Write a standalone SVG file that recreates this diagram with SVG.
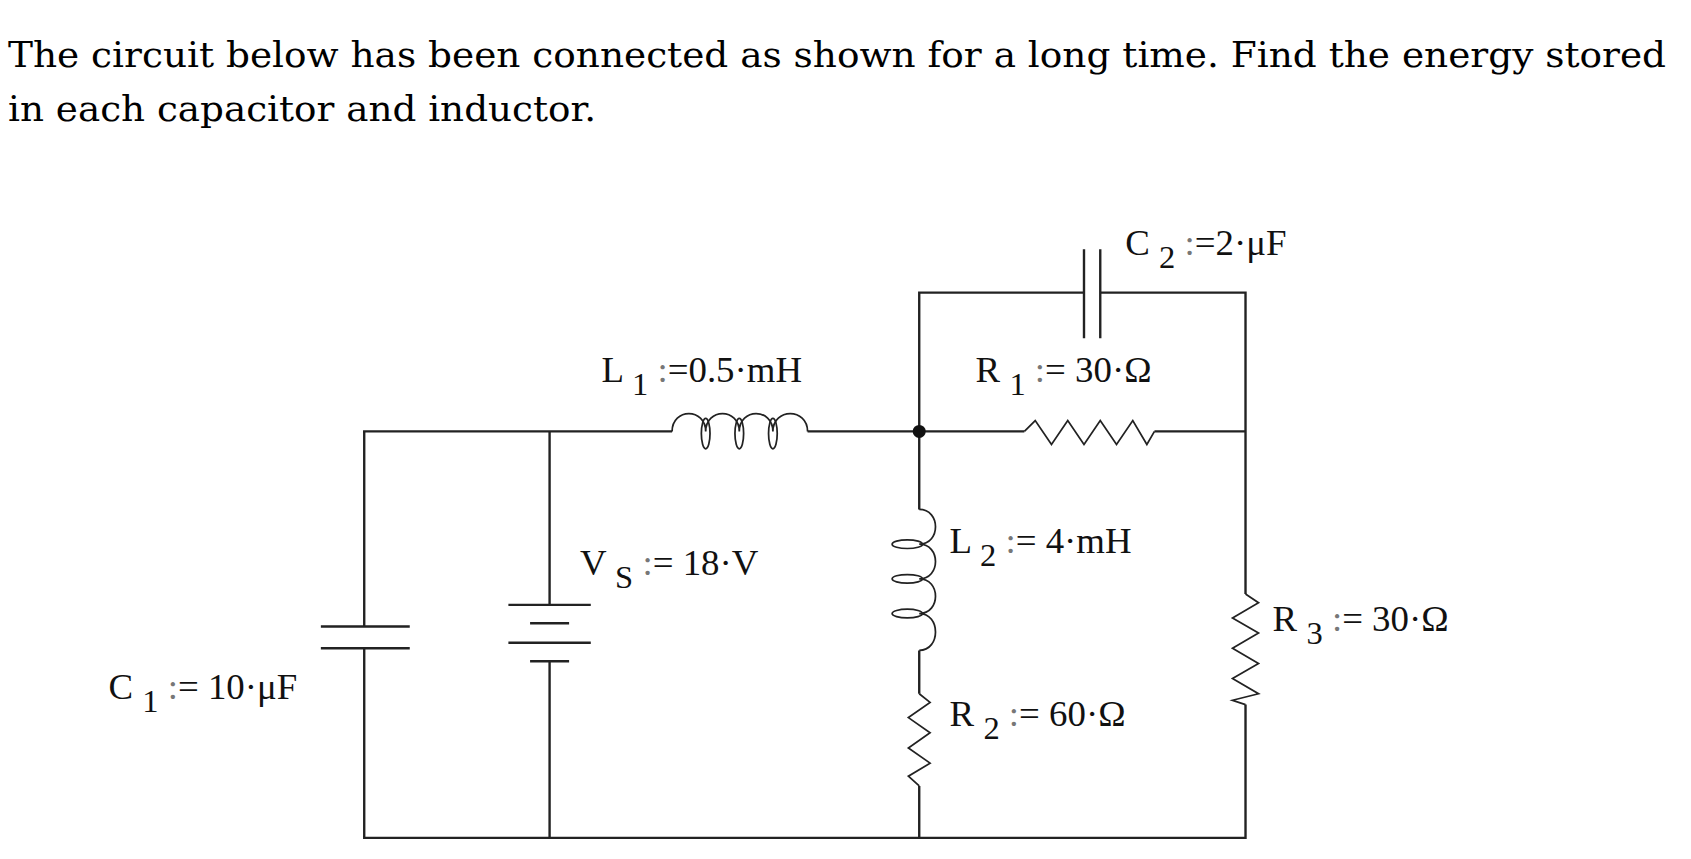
<svg xmlns="http://www.w3.org/2000/svg" width="1691" height="859" viewBox="0 0 1691 859">
<style>
.w{stroke:#222;stroke-width:2.2;fill:none}
.c{stroke:#222;stroke-width:1.6;fill:none}
.t{font-family:"Liberation Serif",serif;font-size:34px;fill:#111}
.s{font-family:"Liberation Serif",serif;font-size:30px}
.q{fill:#777}
.h{font-family:"DejaVu Serif","Liberation Serif",serif;font-size:36px;fill:#000}
</style>
<rect width="1691" height="859" fill="#fff"/>
<text class="h" x="8" y="67" textLength="1658" lengthAdjust="spacingAndGlyphs">The circuit below has been connected as shown for a long time.  Find the energy stored</text>
<text class="h" x="8" y="121" textLength="588" lengthAdjust="spacingAndGlyphs">in each capacitor and inductor.</text>
<g transform="scale(1.084)">
<g id="wires" class="w">
<path d="M336,578 V398 H620 M745,398 H848 M848,398 H945 M1065,398 H1149"/>
<path d="M336,598 V773 H1149 V650 M1149,548 V270 H1015 M1000,270 H848 V398"/>
<path d="M507,398 V558 M507,610 V773"/>
<path d="M848,398 V470 M848,600 V640 M848,725 V773"/>
</g>
<g id="C1" class="w"><path d="M296,578 H378 M296,598 H378"/></g>
<g id="Vs" class="w"><path d="M469,558 H545 M489,575 H525 M469,593 H545 M489,610 H525"/></g>
<g id="L1" class="c"><path d="M620,398 c0,-22 31,-22 31,0 c0,-22 31,-22 31,0 c0,-22 31,-22 31,0 c0,-22 32,-22 32,0"/><ellipse cx="651" cy="400" rx="4" ry="14"/><ellipse cx="682" cy="400" rx="4" ry="14"/><ellipse cx="713" cy="400" rx="4" ry="14"/></g>
<g id="junction"><circle cx="848" cy="398" r="6" fill="#111"/></g>
<g id="C2" class="w"><path d="M1000,230 V312 M1015,230 V312"/></g>
<g id="R1" class="c"><path d="M945,398 L955,388 L970,410 L985,388 L1000,410 L1015,388 L1030,410 L1045,388 L1058,410 L1065,398"/></g>
<g id="L2" class="c"><path d="M848,470 c20,0 20,32 0,32 c20,0 20,32 0,32 c20,0 20,32 0,32 c20,0 20,34 0,34"/><ellipse cx="837" cy="502" rx="14" ry="4"/><ellipse cx="837" cy="534" rx="14" ry="4"/><ellipse cx="837" cy="566" rx="14" ry="4"/></g>
<g id="R2" class="c"><path d="M848,640 L858,648 L838,662 L858,676 L838,690 L858,704 L838,716 L848,725"/></g>
<g id="R3" class="c"><path d="M1149,548 L1161,556 L1137,570 L1161,584 L1137,598 L1161,612 L1137,626 L1161,640 L1137,646 L1149,650"/></g>
<g id="labels" class="t">
<text x="1038" y="235">C <tspan class="s" dy="12">2</tspan><tspan dy="-12" class="q"> :</tspan>=2·μF</text>
<text x="555" y="352">L <tspan class="s" dy="12">1</tspan><tspan dy="-12" class="q"> :</tspan>=0.5·mH</text>
<text x="900" y="352">R <tspan class="s" dy="12">1</tspan><tspan dy="-12" class="q"> :</tspan>= 30·Ω</text>
<text x="876" y="510">L <tspan class="s" dy="12">2</tspan><tspan dy="-12" class="q"> :</tspan>= 4·mH</text>
<text x="535" y="530">V <tspan class="s" dy="12">S</tspan><tspan dy="-12" class="q"> :</tspan>= 18·V</text>
<text x="1174" y="582">R <tspan class="s" dy="12">3</tspan><tspan dy="-12" class="q"> :</tspan>= 30·Ω</text>
<text x="100" y="645">C <tspan class="s" dy="12">1</tspan><tspan dy="-12" class="q"> :</tspan>= 10·μF</text>
<text x="876" y="670">R <tspan class="s" dy="12">2</tspan><tspan dy="-12" class="q"> :</tspan>= 60·Ω</text>
</g>
</g>
</svg>
